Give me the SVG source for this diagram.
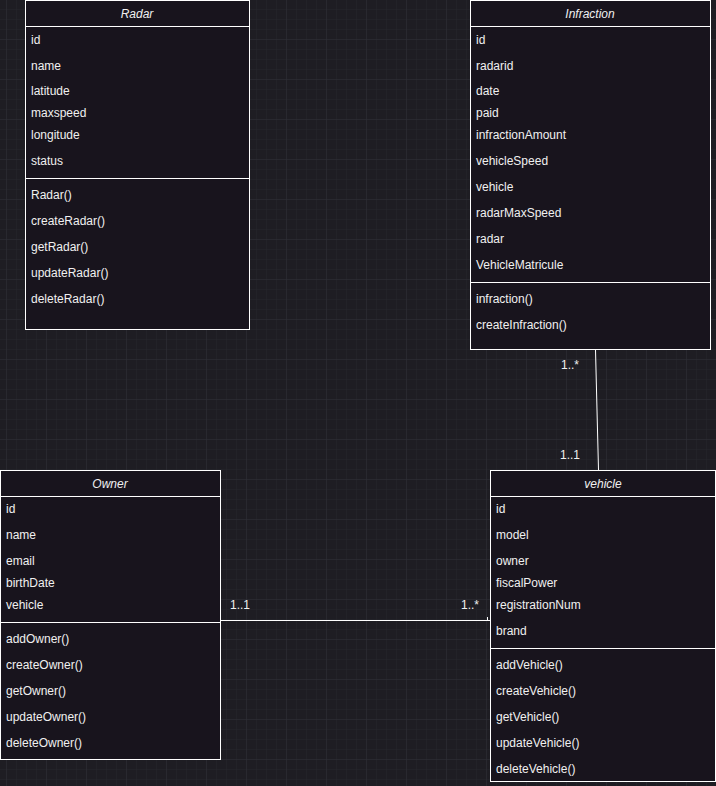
<svg xmlns="http://www.w3.org/2000/svg" width="716" height="786" viewBox="0 0 716 786">
<defs>
<pattern id="g1" width="10" height="10" patternUnits="userSpaceOnUse" x="7" y="0"><path d="M10 0V10M0 10H10" fill="none" stroke="#26262c" stroke-width="1"/></pattern>
<pattern id="g2" width="40" height="40" patternUnits="userSpaceOnUse" x="7" y="0"><path d="M40 0V40M0 40H40" fill="none" stroke="#2e2e35" stroke-width="1"/></pattern>
</defs>
<style>
.box{fill:#18141d;stroke:#ffffff;stroke-width:1}
.ln{stroke:#ffffff;stroke-width:1;fill:none}
text{font-family:"Liberation Sans",Arial,sans-serif;font-size:12px;fill:#f0f0f0}
.h{font-style:italic;text-anchor:middle}
</style>
<rect width="716" height="786" fill="#1e1d23"/>
<rect width="716" height="786" fill="url(#g1)"/>
<rect width="716" height="786" fill="url(#g2)"/>
<g id="connectors">
<path class="ln" d="M220.5 620.5H490.5M487.5 617V620.5"/>
<path class="ln" d="M595.5 350L598.5 470"/>
<text x="230" y="609">1..1</text>
<text x="461" y="609">1..*</text>
<text x="561" y="369">1..*</text>
<text x="560" y="459">1..1</text>
</g>
<g id="radar">
<rect class="box" x="25.5" y="0.5" width="224" height="329"/>
<path class="ln" d="M25.5 26.5H249.5M25.5 178.5H249.5"/>
<text class="h" x="137" y="18">Radar</text>
<text x="31" y="44">id</text><text x="31" y="70">name</text><text x="31" y="95">latitude</text><text x="31" y="117">maxspeed</text><text x="31" y="139">longitude</text><text x="31" y="165">status</text>
<text x="31" y="199">Radar()</text><text x="31" y="225">createRadar()</text><text x="31" y="251">getRadar()</text><text x="31" y="277">updateRadar()</text><text x="31" y="303">deleteRadar()</text>
</g>
<g id="infraction">
<rect class="box" x="470.5" y="0.5" width="240" height="349"/>
<path class="ln" d="M470.5 26.5H710.5M470.5 282.5H710.5"/>
<text class="h" x="590" y="18">Infraction</text>
<text x="476" y="44">id</text><text x="476" y="70">radarid</text><text x="476" y="95">date</text><text x="476" y="117">paid</text><text x="476" y="139">infractionAmount</text><text x="476" y="165">vehicleSpeed</text><text x="476" y="191">vehicle</text><text x="476" y="217">radarMaxSpeed</text><text x="476" y="243">radar</text><text x="476" y="269">VehicleMatricule</text>
<text x="476" y="303">infraction()</text><text x="476" y="329">createInfraction()</text>
</g>
<g id="owner">
<rect class="box" x="0.5" y="470.5" width="220" height="289"/>
<path class="ln" d="M0.5 496.5H220.5M0.5 622.5H220.5"/>
<text class="h" x="110" y="488">Owner</text>
<text x="6" y="513">id</text><text x="6" y="539">name</text><text x="6" y="565">email</text><text x="6" y="587">birthDate</text><text x="6" y="609">vehicle</text>
<text x="6" y="643">addOwner()</text><text x="6" y="669">createOwner()</text><text x="6" y="695">getOwner()</text><text x="6" y="721">updateOwner()</text><text x="6" y="747">deleteOwner()</text>
</g>
<g id="vehicle">
<rect class="box" x="490.5" y="470.5" width="225" height="311"/>
<path class="ln" d="M490.5 496.5H715.5M490.5 648.5H715.5"/>
<text class="h" x="603" y="488">vehicle</text>
<text x="496" y="513">id</text><text x="496" y="539">model</text><text x="496" y="565">owner</text><text x="496" y="587">fiscalPower</text><text x="496" y="609">registrationNum</text><text x="496" y="635">brand</text>
<text x="496" y="669">addVehicle()</text><text x="496" y="695">createVehicle()</text><text x="496" y="721">getVehicle()</text><text x="496" y="747">updateVehicle()</text><text x="496" y="773">deleteVehicle()</text>
</g>
</svg>
